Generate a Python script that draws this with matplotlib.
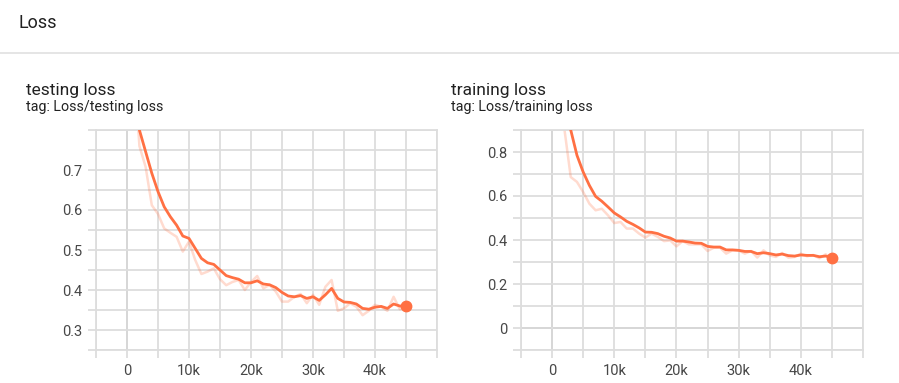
import matplotlib
matplotlib.use("Agg")
import matplotlib.pyplot as plt
from matplotlib.ticker import MultipleLocator, FuncFormatter

plt.rcParams['font.family'] = ['Roboto', 'DejaVu Sans']

steps = [k * 1000 for k in range(1, 46)]

test_raw = [1.00, 0.76, 0.708, 0.612, 0.59, 0.554, 0.543, 0.533, 0.496, 0.521,
            0.475, 0.44, 0.446, 0.454, 0.427, 0.412, 0.42, 0.425, 0.40, 0.42,
            0.435, 0.404, 0.413, 0.396, 0.371, 0.371, 0.383, 0.39, 0.367, 0.388,
            0.363, 0.408, 0.425, 0.348, 0.354, 0.367, 0.358, 0.337, 0.348, 0.363,
            0.358, 0.348, 0.383, 0.352, 0.358]
test_smooth = [0.90, 0.80, 0.746, 0.692, 0.646, 0.608, 0.583, 0.562, 0.535, 0.529,
               0.504, 0.479, 0.468, 0.464, 0.45, 0.436, 0.431, 0.427, 0.418, 0.418,
               0.423, 0.415, 0.413, 0.406, 0.394, 0.385, 0.383, 0.386, 0.379, 0.383,
               0.374, 0.388, 0.404, 0.379, 0.370, 0.369, 0.365, 0.354, 0.352, 0.357,
               0.359, 0.354, 0.365, 0.36, 0.36]

train_raw = [1.40, 0.90, 0.686, 0.664, 0.618, 0.565, 0.535, 0.542, 0.512, 0.477,
             0.482, 0.452, 0.452, 0.429, 0.411, 0.429, 0.414, 0.395, 0.398, 0.371,
             0.395, 0.38, 0.38, 0.38, 0.35, 0.365, 0.365, 0.338, 0.353, 0.353,
             0.338, 0.35, 0.32, 0.353, 0.33, 0.323, 0.341, 0.32, 0.323, 0.338,
             0.326, 0.332, 0.317, 0.335, 0.311]
train_smooth = [1.40, 1.05, 0.90, 0.785, 0.709, 0.648, 0.598, 0.576, 0.55, 0.523,
                0.505, 0.485, 0.471, 0.455, 0.436, 0.435, 0.429, 0.417, 0.409, 0.395,
                0.395, 0.391, 0.386, 0.385, 0.371, 0.368, 0.368, 0.355, 0.355, 0.353,
                0.348, 0.348, 0.338, 0.342, 0.338, 0.332, 0.336, 0.329, 0.327, 0.332,
                0.33, 0.33, 0.324, 0.327, 0.32]

ORANGE = '#ff7043'
GRID = '#dddddd'
ZERO = '#9e9e9e'
TXT = '#474747'

fig = plt.figure(figsize=(8.99, 3.83), dpi=100)

fig.text(18 / 899, 1 - 23 / 383, 'Loss', fontsize=13, color='#212121', va='center', ha='left')
fig.add_artist(plt.Line2D([0, 1], [1 - 52.5 / 383, 1 - 52.5 / 383], color='#e0e0e0', lw=1.2))


def kfmt(v, pos):
    if abs(v) < 1:
        return '0'
    iv = int(round(v))
    if iv % 10000 == 0 and 0 < iv < 50000:
        return f'{iv // 1000}k'
    return ''


def make(ax_rect, title_x, title, tag, raw, smooth, ylim, ystep, ylabels):
    ax = fig.add_axes(ax_rect)
    fig.text(title_x / 899, 1 - 90 / 383, title, fontsize=12.5, color='#212121', va='center')
    fig.text(title_x / 899, 1 - 107 / 383, tag, fontsize=10.3, color='#212121', va='center')
    ax.set_xlim(-5000, 50000)
    ax.set_ylim(*ylim)
    ax.xaxis.set_major_locator(MultipleLocator(5000))
    ax.xaxis.set_major_formatter(FuncFormatter(kfmt))
    ax.yaxis.set_major_locator(MultipleLocator(ystep))

    def yfmt(v, pos):
        for lab in ylabels:
            if abs(v - lab) < 1e-6:
                return '0' if abs(lab) < 1e-9 else f'{lab:g}'
        return ''
    ax.yaxis.set_major_formatter(FuncFormatter(yfmt))
    ax.grid(True, color=GRID, lw=1.3)
    ax.tick_params(length=6, width=1.3, color=GRID, labelcolor=TXT, labelsize=10.5, pad=4)
    for s in ax.spines.values():
        s.set_color(GRID)
        s.set_linewidth(1.3)
    ax.axvline(0, color=ZERO, lw=1.4, zorder=1)
    if ylim[0] < 0 < ylim[1]:
        ax.axhline(0, color=ZERO, lw=1.4, zorder=1)
    ax.plot(steps, raw, color=ORANGE, alpha=0.25, lw=1.8, zorder=2)
    ax.plot(steps, smooth, color=ORANGE, lw=2.0, zorder=3)
    ax.plot([steps[-1]], [smooth[-1]], 'o', color=ORANGE, ms=7.5, zorder=4, clip_on=False)
    return ax


make([96 / 899, 33 / 383, 341 / 899, 220 / 383], 26, 'testing loss', 'tag: Loss/testing loss',
     test_raw, test_smooth, (0.25, 0.8), 0.05, [0.3, 0.4, 0.5, 0.6, 0.7])
make([521 / 899, 33 / 383, 342 / 899, 220 / 383], 451, 'training loss', 'tag: Loss/training loss',
     train_raw, train_smooth, (-0.1, 0.9), 0.1, [0.0, 0.2, 0.4, 0.6, 0.8])

fig.savefig('out.png', dpi=100, facecolor='white')
